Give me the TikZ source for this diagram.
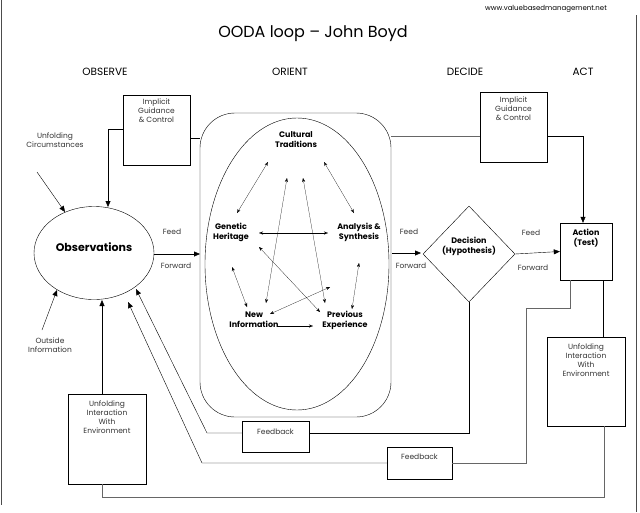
\documentclass[tikz,border=0pt]{standalone}
\usepackage{fontspec}
\setmainfont{Poppins}
\usetikzlibrary{shapes.geometric,arrows.meta}
\begin{document}
\begin{tikzpicture}[x=1pt,y=-1pt,
  lbl/.style={font=\fontsize{7.5}{9}\selectfont\color{black!80}, align=center, inner sep=0},
  bl/.style={font=\fontsize{8}{10}\selectfont\bfseries, align=center, inner sep=0},
  hd/.style={font=\fontsize{10.5}{12}\selectfont, inner sep=0},
  box/.style={draw, thin},
  ar/.style={-{Triangle[length=6pt,width=5pt]}, thin},
  sa/.style={{Stealth[length=4pt,width=3pt]}-{Stealth[length=4pt,width=3pt]}, very thin},
  gl/.style={draw=black!60, thin}]
\useasboundingbox (0,0) rectangle (640,512);
\draw[black!70] (1,0) -- (1,505);
\draw[black!70] (636,15) -- (636,512);
\node[font=\fontsize{7}{8}\selectfont, inner sep=0] (url) at (546,9) {www.valuebasedmanagement.net};
\node[font=\fontsize{16}{18}\selectfont, inner sep=0] (title) at (313,34) {OODA loop – John Boyd};
\node[hd] (h1) at (105,72) {OBSERVE};
\node[hd] (h2) at (290,72) {ORIENT};
\node[hd] (h3) at (465,72) {DECIDE};
\node[hd] (h4) at (583,72) {ACT};

% observe
\node[box, minimum width=67pt, minimum height=70pt] (ig1) at (156.5,130) {};
\node[lbl, anchor=north] (ig1t) at (156.5,99) {Implicit\\Guidance\\\& Control};
\node[lbl] (uc) at (55,140) {Unfolding\\Circumstances};
\coordinate (ucs) at (37,172);
\node[ellipse, draw, minimum width=120pt, minimum height=93pt] (obs) at (94,253) {};
\node[bl, font=\fontsize{11}{12}\selectfont\bfseries] (obst) at (94,247) {Observations};
\draw[ar] (ucs) -- (65,212);
\node[lbl] (oi) at (50,345) {Outside\\Information};
\draw[ar] (42,330) -- (57,290);
\draw[ar] (ig1.west |- 0,129) -- (108,129) -- (108,207);
\node[lbl] (f1) at (172,232) {Feed};
\node[lbl] (fw1) at (176,266) {Forward};
\draw[ar] (154,254) -- (200,254);

% orient
\draw[thin] (200,148) arc[start angle=180, end angle=270, radius=35] -- (356,113) arc[start angle=-90,end angle=0,radius=35] -- (391,382) arc[start angle=0,end angle=90,radius=35] -- (235,417) arc[start angle=90,end angle=180,radius=35] -- cycle;
\node[ellipse, draw, thin, minimum width=184pt, minimum height=292pt] (oe) at (297,264) {};
\draw[thin] (190,138) -- (200,138);
\node[bl] (ct) at (296,140) {Cultural\\Traditions};
\node[bl] (gh) at (231,232) {Genetic\\Heritage};
\node[bl] (as) at (359,232) {Analysis \&\\Synthesis};
\node[bl] (ni) at (254,320) {New\\Information};
\node[bl] (pe) at (345,320) {Previous\\Experience};
\draw[sa] (268,162) -- (237,213);
\draw[sa] (324,162) -- (354,213);
\draw[sa] (259,233) -- (328,233);
\draw[sa] (287,178) -- (266,303);
\draw[sa] (303,178) -- (325,303);
\draw[sa] (259,247) -- (320,312);
\draw[sa] (330,287) -- (270,314);
\draw[sa] (232,267) -- (247,307);
\draw[sa] (359,263) -- (352,309);
\draw[-{Stealth[length=4pt,width=3pt]}, very thin] (277,326) -- (313,326);

% decide
\node[lbl] (f2) at (409,232) {Feed};
\node[lbl] (fw2) at (411,266) {Forward};
\draw[ar] (392,253) -- (421,253);
\node[diamond, draw, thin, minimum width=92pt, minimum height=96pt, inner sep=0] (dec) at (469,254) {};
\node[bl] (dect) at (469,246) {Decision\\(Hypothesis)};
\node[lbl] (f3) at (531,233) {Feed};
\node[lbl] (fw3) at (533,268) {Forward};

% act
\node[box, minimum width=52pt, minimum height=57pt] (act) at (586,251.5) {};
\node[bl] (actt) at (586,238) {Action\\(Test)};
\draw[ar] (dec.east) -- (act.west);
\node[box, minimum width=67pt, minimum height=70pt] (ig2) at (513.5,127) {};
\node[lbl, anchor=north] (ig2t) at (513.5,97) {Implicit\\Guidance\\\& Control};
\draw[gl] (391,136) -- (ig2.west |- 0,136);
\draw[ar] (ig2.east |- 0,136) -- (583,136) -- (act.north -| 583,0);

\node[box, minimum width=78pt, minimum height=89pt] (ue2) at (586,381.5) {};
\node[lbl, anchor=north] (ue2t) at (586,344) {Unfolding\\Interaction\\With\\Environment};
\node[box, minimum width=78pt, minimum height=90pt] (ue1) at (107,439) {};
\node[lbl, anchor=north] (ue1t) at (107,401) {Unfolding\\Interaction\\With\\Environment};
\draw[thin] (603,280) -- (603,337);
\draw[gl] (604,426) -- (604,497) -- (102,497) -- (102,484);
\draw[ar] (102,394) -- (102,300);

\node[box, minimum width=67pt, minimum height=31pt] (fb1) at (275.5,436.5) {};
\node[lbl] (fb1t) at (275.5,432) {Feedback};
\node[box, minimum width=65pt, minimum height=32pt] (fb2) at (419.5,463) {};
\node[lbl] (fb2t) at (419.5,457) {Feedback};
\draw[thin] (dec.south) -- (469,433) -- (fb1.east |- 0,433);
\draw[ar] (fb1.west |- 0,433) -- (207,433) -- (136,289);
\draw[gl] (570,280) -- (570,308) -- (526,308) -- (526,463) -- (fb2.east |- 0,463);
\draw[ar] (fb2.west |- 0,463) -- (202,463) -- (128,302);
\end{tikzpicture}
\end{document}
